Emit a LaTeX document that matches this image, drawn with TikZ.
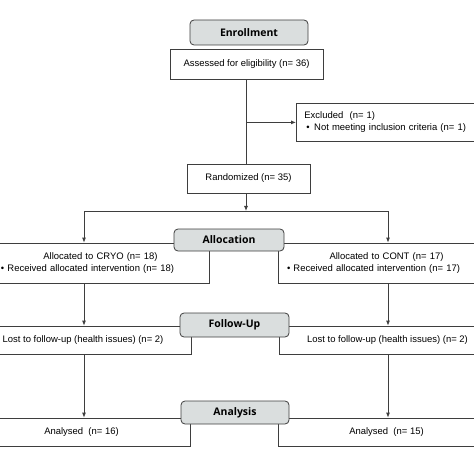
\documentclass[tikz,border=0pt]{standalone}
\usepackage{fontspec}
\setmainfont{Liberation Sans}
\newfontfamily\headfont{Open Sans}
\usepackage{tikz}
\usetikzlibrary{arrows.meta,positioning,calc}
\definecolor{hgray}{RGB}{218,222,222}
\definecolor{lgray}{RGB}{62,62,62}

\begin{document}
\begin{tikzpicture}[x=1bp, y=-1bp,
    box/.style={draw=lgray, line width=0.8bp, fill=white, inner sep=0pt,
                font=\fontsize{9.5}{12}\selectfont, align=center},
    tbox/.style={draw=lgray, line width=0.8bp, fill=white, inner xsep=9bp, inner ysep=0pt,
                 text width=199bp, font=\fontsize{9.5}{12}\selectfont, align=left},
    head/.style={draw=lgray, line width=0.8bp, rounded corners=4bp, fill=hgray,
                 inner sep=0pt, font=\headfont\bfseries\fontsize{10.5}{12}\selectfont},
    arr/.style={-{Latex[length=5bp,width=4bp]}, lgray, line width=0.8bp},
    ln/.style={lgray, line width=0.8bp},
  ]
    \useasboundingbox (0,0) rectangle (474,474);
    \clip (0,0) rectangle (474,474);

    % enrollment
    \node[box, minimum width=153bp, minimum height=30bp] (assess) at (246.5,64)   {Assessed for eligibility (n= 36)};
    \node[box, minimum width=123bp, minimum height=29bp] (rand)   at (248.5,178.5) {Randomized (n= 35)};
    \node[tbox, text width=180bp, inner xsep=8bp, minimum height=38bp, anchor=north west] (excl) at (296,103)
      {Excluded\ \ (n= 1)\par\hspace*{2bp}\textbullet\hspace{4.5bp}Not meeting inclusion criteria (n= 1)};
    \coordinate (split) at (246,211);
    \coordinate (colL) at (84,0);
    \coordinate (colR) at (388,0);

    % allocation
    \node[tbox, minimum height=40bp] (allocL) at (100.5,263)
      {\centering Allocated to CRYO (n= 18)\par\raggedright\textbullet\ Received allocated intervention (n= 18)};
    \node[tbox, minimum height=40bp] (allocR) at (386.5,263)
      {\centering Allocated to CONT (n= 17)\par\raggedright\textbullet\ Received allocated intervention (n= 17)};

    % follow-up
    \node[box, minimum width=217bp, minimum height=28bp] (fupL) at (83,340)  {Lost to follow-up (health issues) (n= 2)};
    \node[box, minimum width=217bp, minimum height=28bp] (fupR) at (387.5,340) {Lost to follow-up (health issues) (n= 2)};

    % analysis
    \node[box, minimum width=217bp, minimum height=28bp] (anL) at (81.5,432)  {Analysed\ \ (n= 16)};
    \node[box, minimum width=217bp, minimum height=28bp] (anR) at (386.5,432) {Analysed\ \ (n= 15)};

    % stage headers
    \node[head, minimum width=118bp, minimum height=25bp] (enroll)    at (249,32.5)  {Enrollment};
    \node[head, minimum width=110bp, minimum height=22bp] (allocHead) at (229,240)   {Allocation};
    \node[head, minimum width=109bp, minimum height=24bp] (fupHead)   at (234.5,325) {Follow-Up};
    \node[head, minimum width=108bp, minimum height=23bp] (anHead)    at (235,412.5) {Analysis};

    \draw[ln]  (assess.south -| split) -- (rand.north -| split);
    \draw[arr] (excl.west -| split) -- (excl.west);
    \draw[arr] (rand.south -| split) -- (split);
    \draw[arr] (split) -| (colL |- allocL.north);
    \draw[arr] (split) -| (colR |- allocR.north);
    \draw[arr] (colL |- allocL.south) -- (colL |- fupL.north);
    \draw[arr] (colR |- allocR.south) -- (colR |- fupR.north);
    \draw[arr] (colL |- fupL.south) -- (colL |- anL.north);
    \draw[arr] (colR |- fupR.south) -- (colR |- anR.north);
  \end{tikzpicture}
\end{document}
